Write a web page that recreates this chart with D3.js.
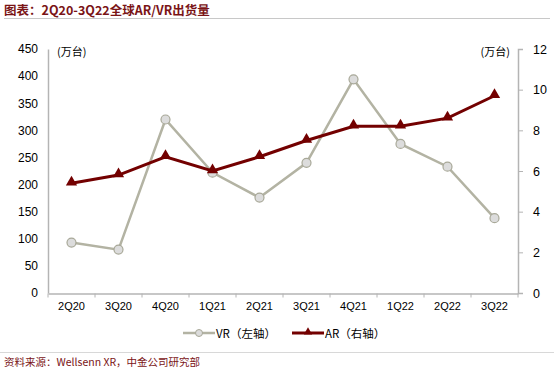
<!DOCTYPE html>
<html>
<head>
<meta charset="utf-8">
<script src="https://cdn.jsdelivr.net/npm/d3@7"></script>
<style>
  body { margin: 0; background: #fff; }
  svg { display: block; font-family: Arial, "Liberation Sans", "Noto Sans CJK SC", sans-serif; }
</style>
</head>
<body>
<div id="chart"></div>
<script>
// data
const quarters = ["2Q20", "3Q20", "4Q20", "1Q21", "2Q21", "3Q21", "4Q21", "1Q22", "2Q22", "3Q22"];
const vrValues = [93, 80, 320, 222, 176, 240, 394, 275, 233, 138]; // 左轴, 万台
const arValues = [5.4, 5.8, 6.7, 6.0, 6.7, 7.5, 8.2, 8.2, 8.6, 9.7]; // 右轴, 万台
const leftTicks = [0, 50, 100, 150, 200, 250, 300, 350, 400, 450];
const rightTicks = [0, 2, 4, 6, 8, 10, 12];

const size = { width: 554, height: 370 };
const margin = { left: 48, right: 36, top: 49, bottom: 77 };

const svg = d3.select("#chart")
  .append("svg")
  .attr("width", size.width)
  .attr("height", size.height);

const cjk = "'Noto Sans CJK SC', sans-serif";
const red = "#7a1416";

// title + rules
svg.append("text")
  .attr("x", 4).attr("y", 15)
  .attr("fill", red)
  .style("font-family", cjk)
  .style("font-weight", "bold")
  .style("font-size", "12.5px")
  .text("图表：2Q20-3Q22全球AR/VR出货量");
svg.append("line")
  .attr("x1", 4).attr("x2", 550).attr("y1", 18.5).attr("y2", 18.5)
  .attr("stroke", "#c8c8c8");
svg.append("line")
  .attr("x1", 0).attr("x2", 554).attr("y1", 352.5).attr("y2", 352.5)
  .attr("stroke", "#d8d8d8");
svg.append("text")
  .attr("x", 4).attr("y", 366)
  .attr("fill", red)
  .style("font-family", cjk)
  .style("font-size", "10.5px")
  .text("资料来源：Wellsenn XR，中金公司研究部");

const x = d3.scaleBand()
  .domain(quarters)
  .range([margin.left, size.width - margin.right]);

const yL = d3.scaleLinear()
  .domain([0, 450])
  .range([size.height - margin.bottom, margin.top]);

const yR = d3.scaleLinear()
  .domain([0, 12])
  .range([size.height - margin.bottom, margin.top]);

const axisColor = "#b4b4b4";

// bottom axis
const gx = svg.append("g")
  .attr("transform", `translate(0, ${size.height - margin.bottom + 0.5})`)
  .call(d3.axisBottom(x).tickSize(0).tickPadding(9));
gx.select(".domain").attr("stroke", axisColor).attr("stroke-width", 1.5);
gx.selectAll("text").style("font-size", "11px").attr("fill", "#000");
gx.selectAll(".sep")
  .data(d3.range(quarters.length + 1))
  .join("line")
  .attr("class", "sep")
  .attr("x1", (i) => margin.left + i * x.step())
  .attr("x2", (i) => margin.left + i * x.step())
  .attr("y1", 0).attr("y2", 4)
  .attr("stroke", axisColor);

// left axis
const gl = svg.append("g")
  .attr("transform", `translate(${margin.left}, 0)`)
  .call(d3.axisLeft(yL).tickValues(leftTicks).tickSize(0).tickPadding(10));
gl.select(".domain").attr("stroke", axisColor).attr("stroke-width", 1.5);
gl.selectAll("text").style("font-size", "12px").attr("fill", "#000");

// right axis
const gr = svg.append("g")
  .attr("transform", `translate(${size.width - margin.right}, 0)`)
  .call(d3.axisRight(yR).tickValues(rightTicks).tickSize(5).tickPadding(10));
gr.select(".domain").attr("stroke", axisColor).attr("stroke-width", 1.5);
gr.selectAll("line").attr("stroke", axisColor);
gr.selectAll("text").style("font-size", "12.5px").attr("fill", "#000");

// unit labels
svg.append("text")
  .attr("x", 57).attr("y", 56)
  .style("font-family", cjk).style("font-size", "11px")
  .text("(万台)");
svg.append("text")
  .attr("x", 510).attr("y", 56)
  .attr("text-anchor", "end")
  .style("font-family", cjk).style("font-size", "11px")
  .text("(万台)");

const cx = (d, i) => x(quarters[i]) + x.bandwidth() / 2;
const vrColor = "#b3b3a3";
const arColor = "#730000";

// VR line
svg.append("path")
  .datum(vrValues)
  .attr("fill", "none")
  .attr("stroke", vrColor)
  .attr("stroke-width", 2.5)
  .attr("d", d3.line().x(cx).y((d) => yL(d)));
svg.selectAll(".vrDot")
  .data(vrValues)
  .join("circle")
  .attr("class", "vrDot")
  .attr("cx", cx)
  .attr("cy", (d) => yL(d))
  .attr("r", 4.5)
  .attr("fill", "#dcdcdc")
  .attr("stroke", "#a8a898")
  .attr("stroke-width", 1.2);

// AR line
svg.append("path")
  .datum(arValues)
  .attr("fill", "none")
  .attr("stroke", arColor)
  .attr("stroke-width", 3)
  .attr("d", d3.line().x(cx).y((d) => yR(d)));
const tri = d3.symbol().type(d3.symbolTriangle).size(55);
svg.selectAll(".arDot")
  .data(arValues)
  .join("path")
  .attr("class", "arDot")
  .attr("transform", (d, i) => `translate(${cx(d, i)}, ${yR(d) - 1})`)
  .attr("d", tri)
  .attr("fill", arColor);

// legend
const legend = svg.append("g").attr("transform", "translate(0, 333)");
legend.append("line")
  .attr("x1", 183).attr("x2", 215).attr("y1", 0).attr("y2", 0)
  .attr("stroke", vrColor).attr("stroke-width", 2.5);
legend.append("circle")
  .attr("cx", 199).attr("cy", 0).attr("r", 3.5)
  .attr("fill", "#dcdcdc").attr("stroke", "#a8a898");
legend.append("text")
  .attr("x", 216).attr("y", 4.5)
  .style("font-family", cjk).style("font-size", "11.5px")
  .text("VR（左轴）");
legend.append("line")
  .attr("x1", 292).attr("x2", 324).attr("y1", 0).attr("y2", 0)
  .attr("stroke", arColor).attr("stroke-width", 3);
legend.append("path")
  .attr("transform", "translate(308, -1)")
  .attr("d", d3.symbol().type(d3.symbolTriangle).size(30))
  .attr("fill", arColor);
legend.append("text")
  .attr("x", 325).attr("y", 4.5)
  .style("font-family", cjk).style("font-size", "11.5px")
  .text("AR（右轴）");
</script>
</body>
</html>
